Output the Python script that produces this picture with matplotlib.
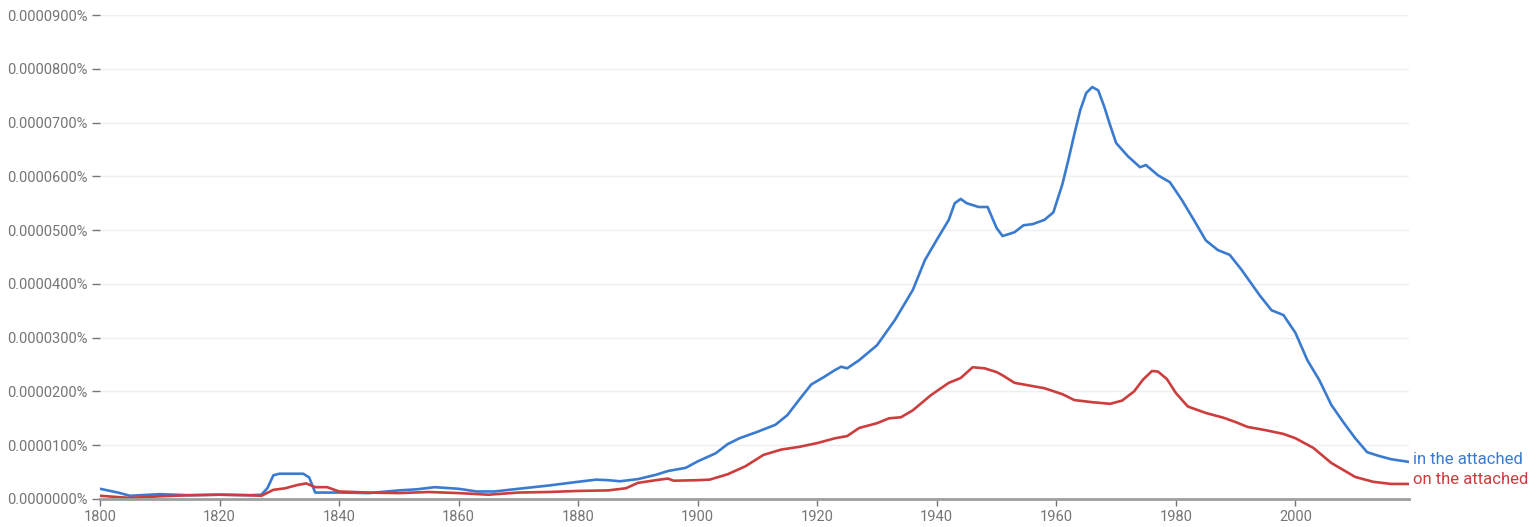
import matplotlib.pyplot as plt
import matplotlib.ticker as mticker

plt.rcParams['font.family'] = ['Roboto', 'DejaVu Sans']

# valores en unidades de 0.0000100 %
anios_in = [1800, 1803, 1805, 1810, 1815, 1820, 1825, 1827, 1828, 1829, 1830, 1834, 1835, 1836,
            1840, 1845, 1850, 1853, 1856, 1860, 1863, 1866, 1870, 1875, 1880, 1883, 1885, 1887,
            1890, 1893, 1895, 1898, 1900, 1903, 1905, 1907, 1910, 1913, 1915, 1917, 1919, 1921,
            1923, 1924, 1925, 1927, 1930, 1933, 1936, 1938, 1940, 1942, 1943, 1944, 1945, 1947, 1948.5,
            1950, 1951, 1953, 1954.5, 1956, 1958, 1959.5, 1961, 1962, 1963, 1964, 1965, 1966, 1967,
            1968, 1969, 1970, 1972,
            1974, 1975, 1977, 1979, 1981, 1983, 1985, 1987, 1989, 1991, 1994, 1996, 1998, 2000,
            2002, 2004, 2006, 2008, 2010, 2012, 2014, 2016, 2019]
valores_in = [0.19, 0.12, 0.06, 0.09, 0.07, 0.08, 0.07, 0.08, 0.2, 0.44, 0.47, 0.47, 0.4, 0.12,
              0.12, 0.11, 0.16, 0.18, 0.22, 0.19, 0.14, 0.14, 0.19, 0.25, 0.32, 0.36, 0.35, 0.33,
              0.37, 0.45, 0.52, 0.58, 0.7, 0.85, 1.02, 1.13, 1.25, 1.38, 1.56, 1.85, 2.13, 2.26,
              2.4, 2.46, 2.43, 2.58, 2.86, 3.33, 3.89, 4.44, 4.82, 5.19, 5.5, 5.58, 5.5, 5.43, 5.43,
              5.04, 4.89, 4.96, 5.09, 5.11, 5.19, 5.33, 5.85, 6.30, 6.78, 7.23, 7.55, 7.66, 7.6,
              7.3, 6.95, 6.62, 6.37,
              6.17, 6.21, 6.02, 5.89, 5.56, 5.19, 4.81, 4.63, 4.54, 4.26, 3.79, 3.51, 3.42, 3.09,
              2.58, 2.21, 1.75, 1.43, 1.13, 0.87, 0.8, 0.74, 0.69]

anios_on = [1800, 1805, 1810, 1815, 1820, 1825, 1827, 1829, 1831, 1833, 1834.5, 1836, 1838, 1840,
            1845, 1850, 1855, 1860, 1865, 1870, 1875, 1880, 1885, 1888, 1890, 1893, 1895, 1896,
            1900, 1902, 1905, 1908, 1911, 1914, 1917, 1920, 1923, 1925, 1927, 1930, 1932, 1934,
            1936, 1939, 1942, 1944, 1946, 1948, 1950, 1951, 1953, 1955, 1958, 1961, 1963, 1966,
            1969, 1971, 1973, 1974.5, 1976, 1977, 1978.5, 1980, 1982, 1985, 1988, 1990, 1992, 1995,
            1998, 2000, 2003, 2006, 2010, 2013, 2016, 2019]
valores_on = [0.06, 0.02, 0.05, 0.07, 0.08, 0.07, 0.06, 0.17, 0.2, 0.26, 0.29, 0.22, 0.22, 0.14,
              0.12, 0.11, 0.13, 0.11, 0.08, 0.12, 0.13, 0.15, 0.16, 0.2, 0.3, 0.35, 0.38, 0.34,
              0.35, 0.36, 0.46, 0.61, 0.82, 0.92, 0.97, 1.04, 1.13, 1.17, 1.32, 1.41, 1.5, 1.52,
              1.65, 1.93, 2.16, 2.25, 2.45, 2.43, 2.36, 2.3, 2.16, 2.12, 2.06, 1.95, 1.84, 1.8,
              1.77, 1.83, 2.0, 2.22, 2.38, 2.37, 2.23, 1.97, 1.72, 1.6, 1.51, 1.43, 1.34, 1.28,
              1.21, 1.13, 0.95, 0.67, 0.41, 0.32, 0.28, 0.28]

etiquetas = ["in the attached", "on the attached"]
colores = ["#3a7bd0", "#cc3d3d"]

fig = plt.figure(figsize=(15.36, 5.27), dpi=100)
ax = fig.add_axes([100 / 1536, 1 - 499 / 527, 1309 / 1536, 484 / 527])

for x, y, lab, col, dy in [(anios_in, valores_in, etiquetas[0], colores[0], 2),
                          (anios_on, valores_on, etiquetas[1], colores[1], 3)]:
    ax.plot(x, y, color=col, lw=1.9, solid_joinstyle='round')
    ax.annotate(lab, xy=(x[-1], y[-1]), xytext=(3, dy), textcoords='offset points',
                color=col, fontsize=12, va='center', ha='left', annotation_clip=False)

ax.set_xlim(1800, 2019)
ax.set_ylim(0, 9)
ax.set_xticks(range(1800, 2019, 20))
ax.set_yticks(range(0, 10))
ax.yaxis.set_major_formatter(mticker.FuncFormatter(lambda v, p: f"{v * 1e-5:.7f}%"))

ax.grid(axis='y', color='#efefef', lw=1)
ax.set_axisbelow(True)
for s in ['top', 'right', 'left']:
    ax.spines[s].set_visible(False)
ax.spines['bottom'].set_color('#9e9e9e')
ax.spines['bottom'].set_linewidth(2)

ax.tick_params(axis='y', colors='#757575', labelsize=10.5, length=6, width=1, pad=3)
ax.tick_params(axis='x', colors='#757575', labelsize=10.5, length=5, width=1, pad=3)
for t in ax.get_xticklines() + ax.get_yticklines():
    t.set_color('#9e9e9e')

fig.savefig("out.png", dpi=100)
